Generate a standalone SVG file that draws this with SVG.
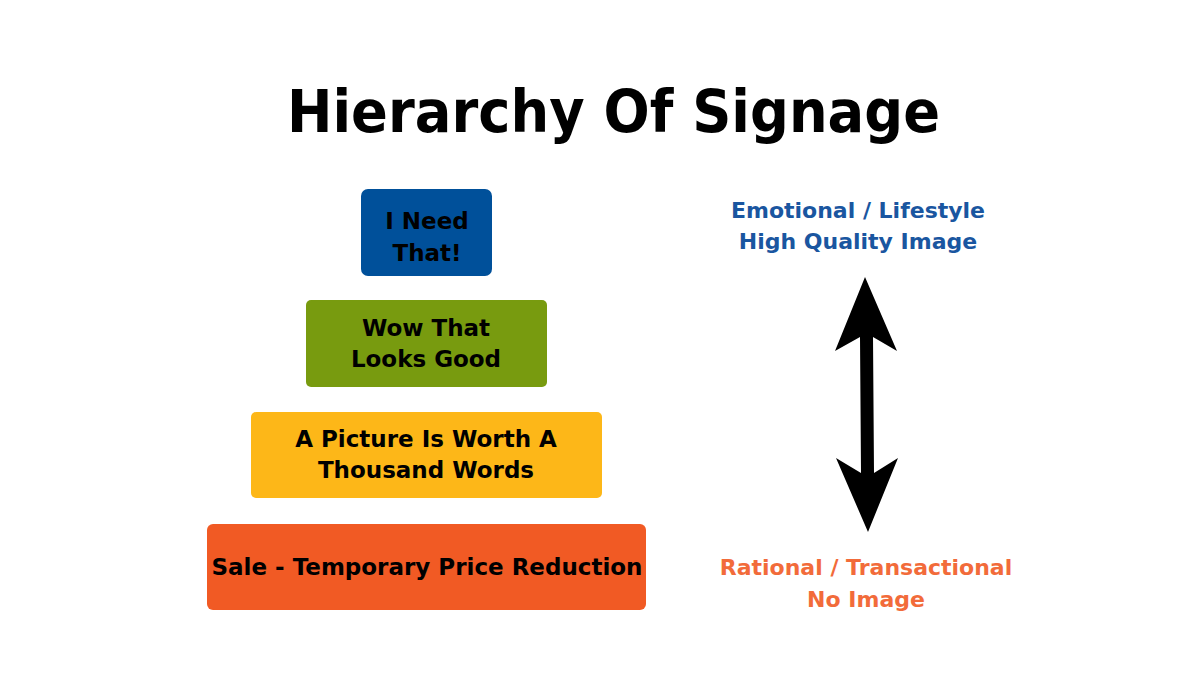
<svg xmlns="http://www.w3.org/2000/svg" width="1200" height="675" viewBox="0 0 1200 675">
<style>
.box text{font-family:"DejaVu Sans","Liberation Sans",sans-serif;font-weight:bold;font-size:23px;fill:#000;text-anchor:middle}
.lbl{font-family:"DejaVu Sans","Liberation Sans",sans-serif;font-weight:bold;font-size:22px;text-anchor:middle}
</style>
<rect width="1200" height="675" fill="#fff"/>
<text x="613.5" y="132" font-family="DejaVu Sans, sans-serif" font-weight="bold" font-size="59" text-anchor="middle" fill="#000" textLength="653" lengthAdjust="spacingAndGlyphs">Hierarchy Of Signage</text>
<g id="n1" class="box"><rect x="361" y="189" width="131" height="87" rx="7" fill="#00509a"/><text x="427" y="229">I Need</text><text x="427" y="261">That!</text></g>
<g id="n2" class="box"><rect x="306" y="300" width="241" height="87" rx="5" fill="#789b0f"/><text x="426" y="336">Wow That</text><text x="426" y="367">Looks Good</text></g>
<g id="n3" class="box"><rect x="251" y="412" width="351" height="86" rx="5" fill="#fdb718"/><text x="426" y="447">A Picture Is Worth A</text><text x="426" y="478">Thousand Words</text></g>
<g id="n4" class="box"><rect x="207" y="524" width="439" height="86" rx="6" fill="#f15a24"/><text x="427" y="575">Sale - Temporary Price Reduction</text></g>
<g id="top-label"><text class="lbl" fill="#1a56a0" x="858" y="218">Emotional / Lifestyle</text><text class="lbl" fill="#1a56a0" x="858" y="249">High Quality Image</text></g>
<g id="bottom-label"><text class="lbl" fill="#f26b3a" x="866" y="575" font-size="22.4">Rational / Transactional</text><text class="lbl" fill="#f26b3a" x="866" y="607">No Image</text></g>
<g id="connectors">
<path d="M865,277 L897,351 L873,337 L874,473 L898,458 L868,532 L836,458 L861,473 L860,337 L835,351 Z" fill="#000"/>
</g>
</svg>
